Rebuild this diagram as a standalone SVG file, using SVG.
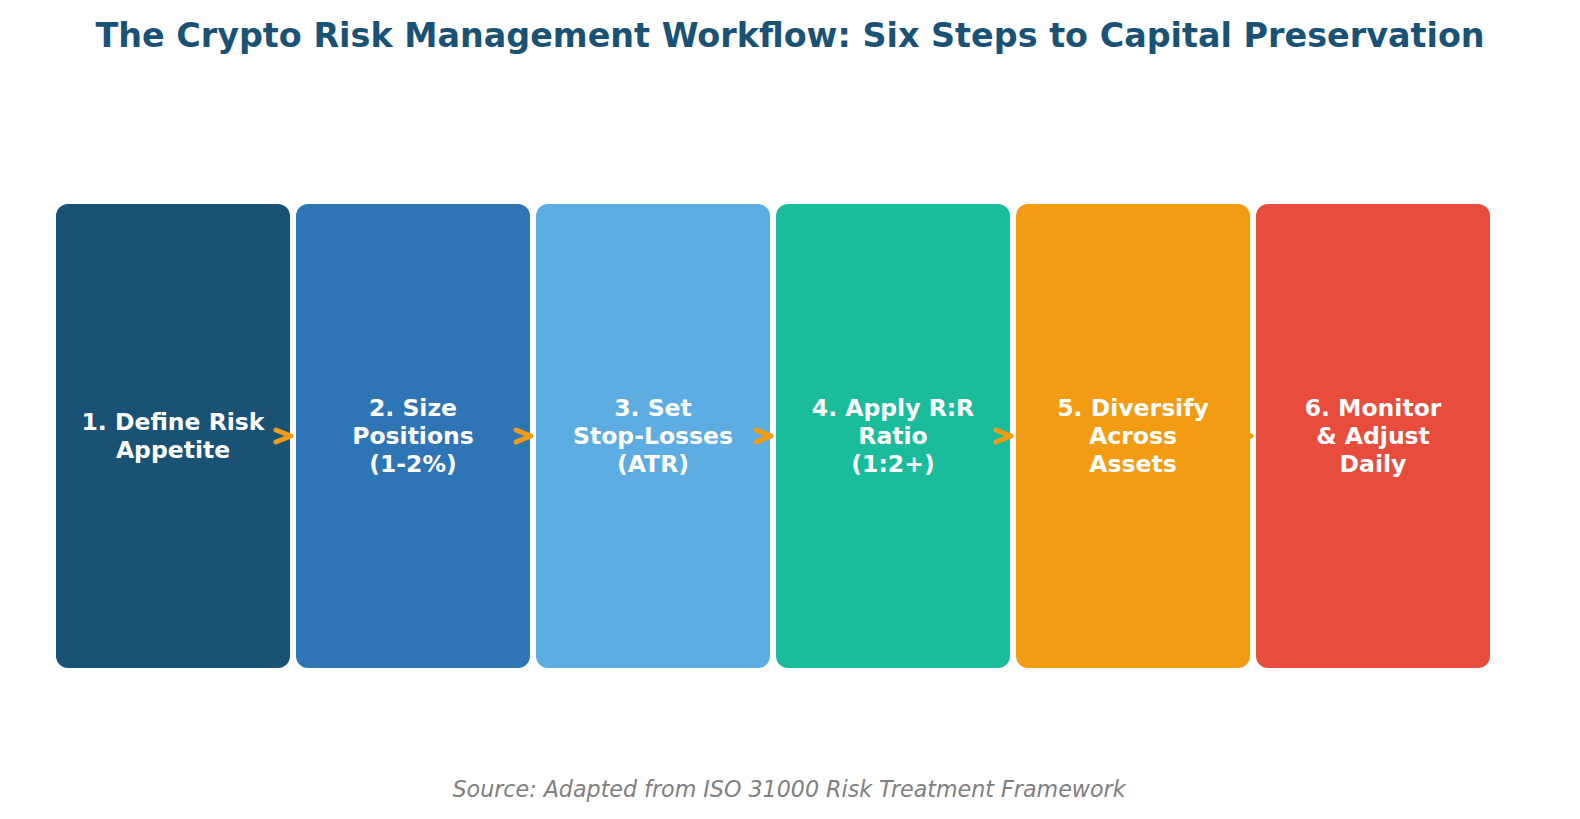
<svg xmlns="http://www.w3.org/2000/svg" width="1580" height="819" viewBox="0 0 1580 819">
<style>
.title{font-family:"DejaVu Sans",sans-serif;font-weight:bold;font-size:33.4px;fill:#1a5276;text-anchor:middle}
.lbl{font-family:"DejaVu Sans",sans-serif;font-weight:bold;font-size:23.5px;fill:#ffffff;text-anchor:middle}
.src{font-family:"DejaVu Sans",sans-serif;font-style:italic;font-size:22.2px;fill:#808080;text-anchor:middle}
.arr{fill:none;stroke:#f39c12;stroke-width:5;stroke-linecap:round;stroke-linejoin:round}
</style>
<rect width="1580" height="819" fill="#ffffff"/>
<text class="title" x="790" y="47">The Crypto Risk Management Workflow: Six Steps to Capital Preservation</text>
<g id="node1"><rect x="56" y="204" width="234" height="464" rx="12" fill="#1a5276"/>
<text class="lbl" x="173" y="430">1. Define Risk</text><text class="lbl" x="173" y="458">Appetite</text></g>
<g id="node2"><rect x="296" y="204" width="234" height="464" rx="12" fill="#2e75b6"/>
<text class="lbl" x="413" y="416">2. Size</text><text class="lbl" x="413" y="444">Positions</text><text class="lbl" x="413" y="472">(1-2%)</text></g>
<g id="node3"><rect x="536" y="204" width="234" height="464" rx="12" fill="#5dade2"/>
<text class="lbl" x="653" y="416">3. Set</text><text class="lbl" x="653" y="444">Stop-Losses</text><text class="lbl" x="653" y="472">(ATR)</text></g>
<g id="node4"><rect x="776" y="204" width="234" height="464" rx="12" fill="#1abc9c"/>
<text class="lbl" x="893" y="416">4. Apply R:R</text><text class="lbl" x="893" y="444">Ratio</text><text class="lbl" x="893" y="472">(1:2+)</text></g>
<g id="node5"><rect x="1016" y="204" width="234" height="464" rx="12" fill="#f39c12"/>
<text class="lbl" x="1133" y="416">5. Diversify</text><text class="lbl" x="1133" y="444">Across</text><text class="lbl" x="1133" y="472">Assets</text></g>
<g id="node6"><rect x="1256" y="204" width="234" height="464" rx="12" fill="#e74c3c"/>
<text class="lbl" x="1373" y="416">6. Monitor</text><text class="lbl" x="1373" y="444">&amp; Adjust</text><text class="lbl" x="1373" y="472">Daily</text></g>
<g id="connectors">
<polyline class="arr" points="276,430 291,436 276,442"/>
<polyline class="arr" points="516,430 531,436 516,442"/>
<polyline class="arr" points="756,430 771,436 756,442"/>
<polyline class="arr" points="996,430 1011,436 996,442"/>
<polyline class="arr" points="1236,430 1251,436 1236,442"/>
</g>
<text class="src" x="789" y="797">Source: Adapted from ISO 31000 Risk Treatment Framework</text>
</svg>
